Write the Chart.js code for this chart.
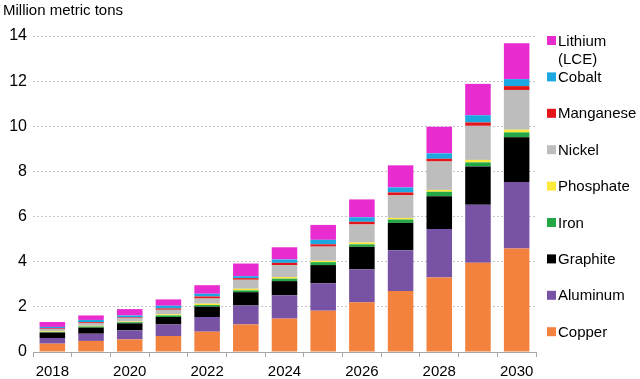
<!DOCTYPE html>
<html>
<head>
<meta charset="utf-8">
<script src="https://cdn.jsdelivr.net/npm/chart.js@4/dist/chart.umd.min.js"></script>
<style>
  body { margin: 0; background: #fff; }
</style>
</head>
<body>
<canvas id="graficaMinerales" width="640" height="379"></canvas>
<script>
// Años del eje x
var years = ["2018", "2019", "2020", "2021", "2022", "2023", "2024", "2025", "2026", "2027", "2028", "2029", "2030"];

// Valores (millones de toneladas)
var copper    = [0.37, 0.49, 0.56, 0.71, 0.90, 1.22, 1.48, 1.83, 2.20, 2.70, 3.30, 3.95, 4.58];
var aluminum  = [0.25, 0.32, 0.40, 0.51, 0.65, 0.84, 1.03, 1.21, 1.46, 1.81, 2.15, 2.57, 2.95];
var graphite  = [0.24, 0.27, 0.31, 0.33, 0.46, 0.59, 0.63, 0.81, 1.00, 1.21, 1.45, 1.70, 1.98];
var iron      = [0.03, 0.05, 0.05, 0.07, 0.07, 0.08, 0.11, 0.13, 0.11, 0.15, 0.20, 0.18, 0.22];
var phosphate = [0.03, 0.03, 0.03, 0.05, 0.06, 0.07, 0.07, 0.06, 0.08, 0.07, 0.08, 0.11, 0.12];
var nickel    = [0.10, 0.13, 0.14, 0.20, 0.23, 0.40, 0.53, 0.63, 0.80, 1.00, 1.26, 1.51, 1.76];
var manganese = [0.03, 0.04, 0.04, 0.06, 0.09, 0.07, 0.10, 0.10, 0.12, 0.13, 0.12, 0.15, 0.17];
var cobalt    = [0.06, 0.09, 0.09, 0.12, 0.12, 0.09, 0.15, 0.20, 0.20, 0.22, 0.24, 0.32, 0.31];
var lithium   = [0.22, 0.20, 0.28, 0.28, 0.38, 0.56, 0.54, 0.66, 0.79, 0.98, 1.18, 1.39, 1.59];

// Ticks del eje y
var yTicks = [0, 2, 4, 6, 8, 10, 12, 14];

var titulo = "Million metric tons";
var fuente = '"Liberation Sans", Arial, sans-serif';

var datos = {
    labels: years,
    datasets: [
        { label: "Copper", data: copper, backgroundColor: "#F3823F" },
        { label: "Aluminum", data: aluminum, backgroundColor: "#7852A4" },
        { label: "Graphite", data: graphite, backgroundColor: "#000000" },
        { label: "Iron", data: iron, backgroundColor: "#24A846" },
        { label: "Phosphate", data: phosphate, backgroundColor: "#FCE93A" },
        { label: "Nickel", data: nickel, backgroundColor: "#BDBDBD" },
        { label: "Manganese", data: manganese, backgroundColor: "#E3151B" },
        { label: "Cobalt", data: cobalt, backgroundColor: "#1DA7E1" },
        { label: "Lithium\n(LCE)", data: lithium, backgroundColor: "#E92CD0" }
    ]
};

// Título y leyenda dibujados a mano
var extras = {
    id: "extras",
    afterDraw: function (chart) {
        var ctx = chart.ctx;
        ctx.save();
        ctx.fillStyle = "#000";
        ctx.textBaseline = "middle";
        ctx.font = "15px " + fuente;
        ctx.fillText(titulo, 3, 11);

        var sets = chart.data.datasets.slice().reverse();
        sets.forEach(function (ds, i) {
            var y = 40.5 + i * 36.4;
            ctx.fillStyle = ds.backgroundColor;
            ctx.fillRect(547, y - 4.5, 9, 9);
            ctx.fillStyle = "#000";
            ds.label.split("\n").forEach(function (linea, j) {
                ctx.fillText(linea, 558, y + 1 + j * 18);
            });
        });
        ctx.restore();
    }
};

var opciones = {
    responsive: false,
    animation: false,
    layout: { padding: { top: 36, right: 104, left: 0, bottom: 0 } },
    plugins: {
        legend: { display: false },
        tooltip: { enabled: false }
    },
    datasets: {
        bar: { categoryPercentage: 1, barPercentage: 0.66 }
    },
    scales: {
        x: {
            stacked: true,
            afterFit: function (scale) { scale.height = 27; },
            grid: { display: true, drawOnChartArea: false, drawTicks: true, tickLength: 5, color: "#A6A6A6" },
            border: { display: true, color: "#A6A6A6" },
            ticks: {
                autoSkip: false,
                maxRotation: 0,
                padding: 6,
                color: "#000",
                font: { size: 15, family: fuente },
                callback: function (v, i) { return i % 2 === 0 ? years[i] : ""; }
            }
        },
        y: {
            stacked: true,
            min: yTicks[0],
            max: yTicks[yTicks.length - 1],
            afterFit: function (scale) { scale.width = 33; },
            afterBuildTicks: function (scale) {
                scale.ticks = yTicks.map(function (v) { return { value: v }; });
            },
            grid: { color: "#C4C4C4", drawTicks: false },
            border: { display: false, dash: [2, 2] },
            ticks: {
                padding: 6,
                color: "#000",
                font: { size: 16, family: fuente }
            }
        }
    }
};

var ctx = document.getElementById("graficaMinerales").getContext("2d");
var grafica = new Chart(ctx, {
    type: "bar",
    data: datos,
    options: opciones,
    plugins: [extras]
});
</script>
</body>
</html>
